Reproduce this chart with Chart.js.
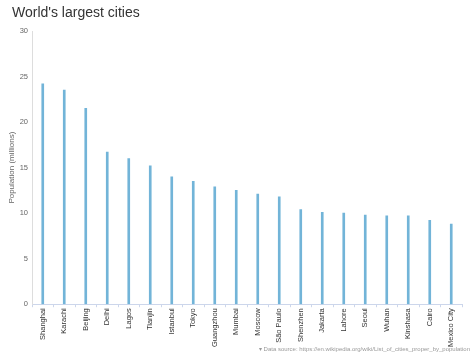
<!DOCTYPE html>
<html>
<head>
<meta charset="utf-8">
<script src="https://cdn.jsdelivr.net/npm/chart.js@4"></script>
<style>
html,body{margin:0;padding:0;background:#fff;}
#wrap{width:474px;height:355px;position:relative;}
</style>
</head>
<body>
<div id="wrap"><canvas id="c" width="474" height="355"></canvas></div>
<script>
const titleText = "World's largest cities";
const yAxisTitle = "Population (millions)";
const sourceText = "\u25BE Data source: https://en.wikipedia.org/wiki/List_of_cities_proper_by_population";
const cities = ["Shanghai","Karachi","Beijing","Delhi","Lagos","Tianjin","Istanbul","Tokyo","Guangzhou","Mumbai","Moscow","São Paulo","Shenzhen","Jakarta","Lahore","Seoul","Wuhan","Kinshasa","Cairo","Mexico City"];
const population = [24.2,23.5,21.5,16.7,16.0,15.2,14.0,13.5,12.9,12.5,12.1,11.8,10.4,10.1,10.0,9.8,9.7,9.7,9.2,8.8];
const yTicks = [0,5,10,15,20,25,30];

const FONT = "'Liberation Sans', Arial, sans-serif";

const textPlugin = {
  id: 'texts',
  afterDraw(chart) {
    const ctx = chart.ctx;
    ctx.save();
    ctx.fillStyle = '#333333';
    ctx.font = "14px " + FONT;
    ctx.textAlign = 'left';
    ctx.textBaseline = 'middle';
    ctx.fillText(titleText, 12, 13);
    ctx.fillStyle = '#999999';
    ctx.font = "6px " + FONT;
    ctx.textAlign = 'right';
    ctx.fillText(sourceText, 470, 349);
    ctx.restore();
  }
};

new Chart(document.getElementById('c'), {
  type: 'bar',
  data: {
    labels: cities,
    datasets: [{
      data: population,
      backgroundColor: '#72b4d8',
      borderWidth: 0,
      barThickness: 2
    }]
  },
  options: {
    responsive: false,
    animation: false,
    layout: { padding: { top: 31, left: 7, right: 12, bottom: 7 } },
    plugins: {
      legend: { display: false },
      title: { display: false },
      tooltip: { enabled: false }
    },
    scales: {
      x: {
        grid: { display: true, drawOnChartArea: false, drawTicks: true, tickLength: 3, color: '#ccd6eb' },
        border: { color: '#ccd6eb' },
        ticks: {
          minRotation: 90, maxRotation: 90, autoSkip: false,
          color: '#333333', font: { size: 7.5, family: FONT }, padding: 1
        }
      },
      y: {
        min: 0, max: 30,
        afterBuildTicks(axis) { axis.ticks = yTicks.map(v => ({ value: v })); },
        afterFit(axis) { axis.width = 25; },
        grid: { display: false, drawTicks: false, tickLength: 0 },
        border: { display: true, color: '#dddddd' },
        ticks: { color: '#666666', font: { size: 7.5, family: FONT }, padding: 4 },
        title: { display: true, text: yAxisTitle, color: '#666666', font: { size: 8, family: FONT }, padding: { top: 0, bottom: 2 } }
      }
    }
  },
  plugins: [textPlugin]
});
</script>
</body>
</html>
